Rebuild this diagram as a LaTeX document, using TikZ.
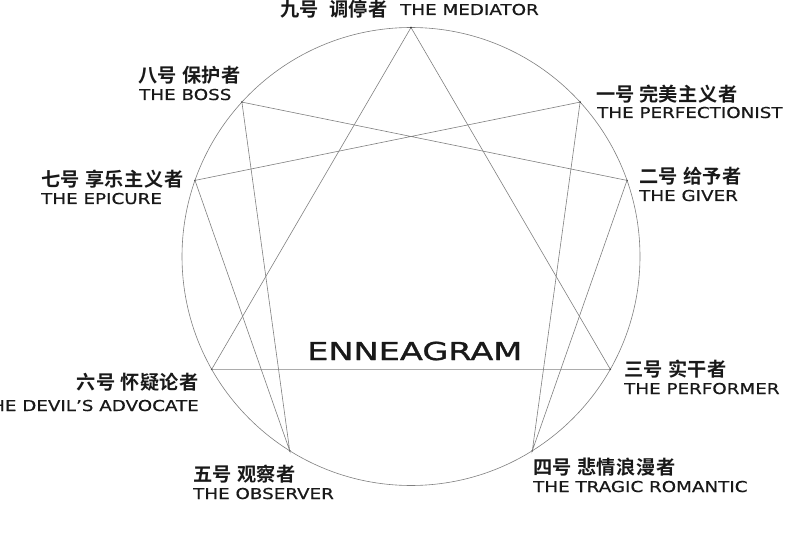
\documentclass[tikz,border=0pt]{standalone}
\usepackage{fontspec}
\setmainfont{DejaVu Sans}
\newfontfamily\cjk{Noto Sans CJK SC}[BoldFont={* Bold}, LetterSpace=3]
\newfontfamily\enfont{DejaVu Sans}[FakeStretch=1.22, FakeBold=0.6]
\newfontfamily\titlefont{DejaVu Sans}[FakeStretch=1.36, FakeBold=1.2]
\begin{document}
\begin{tikzpicture}[x=1pt,y=-1pt,
  cn/.style={font=\cjk\bfseries\fontsize{19.2}{20}\selectfont, inner sep=0pt, text=black!90},
  en/.style={font=\enfont\fontsize{15}{15}\selectfont, inner sep=0pt, text=black!90},
  title/.style={font=\titlefont\fontsize{24.7}{25}\selectfont, inner sep=0pt, text=black!90},
  ln/.style={draw=black!50, line width=0.6pt},
  vdot/.style={circle, fill=black, inner sep=0pt, minimum size=1.6pt}]
\useasboundingbox[fill=white] (0,0) rectangle (787,537);
% circle
\coordinate (c) at (411,256.5);
\draw[ln] (c) circle[radius=229];
% vertices
\node[vdot] (p9) at (411,27.5) {};
\node[vdot] (p1) at (580.1,102.1) {};
\node[vdot] (p2) at (627.0,180.4) {};
\node[vdot] (p3) at (610.3,369.3) {};
\node[vdot] (p4) at (532.3,450.7) {};
\node[vdot] (p5) at (289.7,450.7) {};
\node[vdot] (p6) at (211.7,369.3) {};
\node[vdot] (p7) at (195.0,180.4) {};
\node[vdot] (p8) at (241.9,102.1) {};
% triangle
\draw[ln] (p9.center) -- (p3.center) -- (p6.center) -- cycle;
% hexad
\draw[ln] (p1.center) -- (p4.center) -- (p2.center) -- (p8.center) -- (p5.center) -- (p7.center) -- cycle;
% title
\node[title, anchor=base west] (t) at (307,360) {ENNEAGRAM};
% labels
\node[cn, anchor=base west] (c9) at (280,16.3) {九号\hspace{10pt}调停者};
\node[en, anchor=base west] (e9) at (400,15) {THE MEDIATOR};
\node[cn, anchor=base west] (c8) at (138,82.5) {八号 保护者};
\node[en, anchor=base west] (e8) at (139,100) {THE BOSS};
\node[cn, anchor=base west] (c7) at (41,186.5) {七号 享乐主义者};
\node[en, anchor=base west] (e7) at (41,204) {THE EPICURE};
\node[cn, anchor=base west] (c1) at (596,101.5) {一号\hspace{4pt}完美主义者};
\node[en, anchor=base west] (e1) at (597,118) {THE PERFECTIONIST};
\node[cn, anchor=base west] (c2) at (639,183.5) {二号 给予者};
\node[en, anchor=base west] (e2) at (639,201) {THE GIVER};
\node[cn, anchor=base east] (c6) at (199,389.5) {六号 怀疑论者};
\node[en, anchor=base east] (e6) at (199,411) {THE DEVIL’S ADVOCATE};
\node[cn, anchor=base west] (c5) at (193,481.5) {五号 观察者};
\node[en, anchor=base west] (e5) at (193,499) {THE OBSERVER};
\node[cn, anchor=base west] (c4) at (533,474.5) {四号 悲情浪漫者};
\node[en, anchor=base west] (e4) at (533,492) {THE TRAGIC ROMANTIC};
\node[cn, anchor=base west] (c3) at (624,376.5) {三号 实干者};
\node[en, anchor=base west] (e3) at (624,394) {THE PERFORMER};
\end{tikzpicture}
\end{document}
